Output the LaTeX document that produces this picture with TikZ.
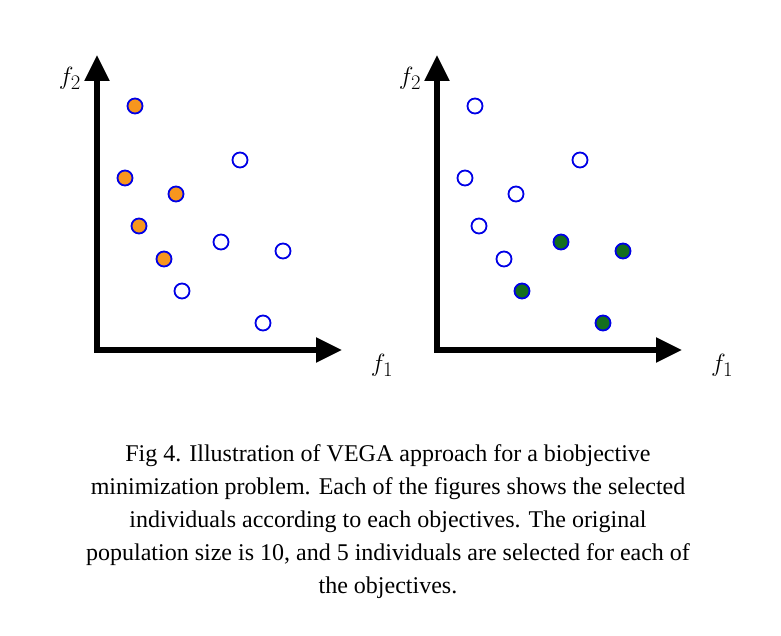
\documentclass[tikz,border=0pt]{standalone}
\usepackage{fontspec}
\setmainfont{Liberation Serif}
\usetikzlibrary{arrows.meta}
\definecolor{orng}{RGB}{247,150,30}
\definecolor{grn}{RGB}{20,110,30}
\definecolor{blu}{RGB}{0,0,230}
\tikzset{
  axis/.style={line width=5.5pt,-{Triangle[length=26pt,width=24pt]}},
  pt/.style={circle,draw=blu,line width=1.8pt,minimum size=15pt,inner sep=0pt},
  lab/.style={font=\fontsize{32}{32}\selectfont}
}
\begin{document}
\begin{tikzpicture}[x=1pt,y=-1pt]
\useasboundingbox (0,0) rectangle (781,636);
\foreach \dx/\side/\fa/\fb in {0/L/orng/white,340/R/white/grn}{
  \coordinate (o\side) at (97+\dx,350);
  \coordinate (y\side) at (97+\dx,55);
  \coordinate (x\side) at (342+\dx,350);
  \draw[axis] ([yshift=-2.75pt]o\side) -- (y\side);
  \draw[axis] ([xshift=-2.75pt]o\side) -- (x\side);
  \node[lab] (f2\side) at (70+\dx,78) {$f_2$};
  \node[lab] (f1\side) at (382+\dx,365) {$f_1$};
  \node[pt,fill=\fa] (a\side) at (135+\dx,106) {};
  \node[pt,fill=\fa] (b\side) at (125+\dx,178) {};
  \node[pt,fill=\fa] (c\side) at (176+\dx,194) {};
  \node[pt,fill=\fa] (d\side) at (139+\dx,226) {};
  \node[pt,fill=\fa] (e\side) at (164+\dx,259) {};
  \node[pt,fill=white] (g\side) at (240+\dx,160) {};
  \node[pt,fill=\fb] (h\side) at (221+\dx,242) {};
  \node[pt,fill=\fb] (i\side) at (283+\dx,251) {};
  \node[pt,fill=\fb] (j\side) at (182+\dx,291) {};
  \node[pt,fill=\fb] (k\side) at (263+\dx,323) {};
}
\node[align=center,font=\fontsize{24}{33}\selectfont] (cap) at (388,522)
{Fig 4. Illustration of VEGA approach for a biobjective\\
minimization problem. Each of the figures shows the selected\\
individuals according to each objectives. The original\\
population size is 10, and 5 individuals are selected for each of\\
the objectives.};
\end{tikzpicture}
\end{document}
